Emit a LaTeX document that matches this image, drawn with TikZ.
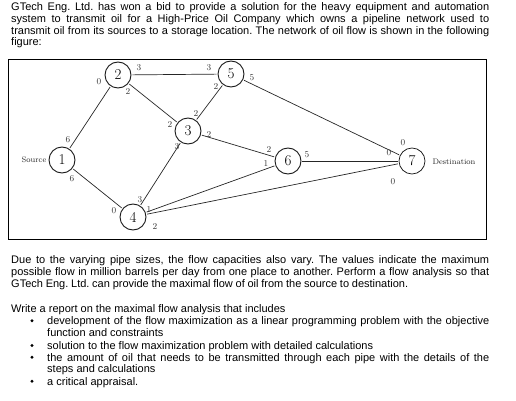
\documentclass[tikz,border=0pt]{standalone}
\usepackage{fontspec}
\newfontfamily\arial{Liberation Sans}
\frenchspacing
\begin{document}
\begin{tikzpicture}[x=1pt,y=-1pt,
 txt/.style={font=\arial\fontsize{11}{12.4}\selectfont, anchor=base west, inner sep=0pt},
 vtx/.style={circle, draw=black!90, line width=0.9pt, minimum size=26pt, inner sep=0pt, font=\fontsize{15}{15}\selectfont},
 lbl/.style={font=\fontsize{9}{9}\selectfont, inner sep=0pt, text=black!80},
 side/.style={font=\fontsize{8}{8}\selectfont, inner sep=0pt, text=black!85},
 pipe/.style={draw=black!85, line width=0.7pt, shorten <=1pt, shorten >=1pt},
 bul/.style={circle, fill=black, minimum size=3.2pt, inner sep=0pt}]
\useasboundingbox (0,0) rectangle (516,401);
% top paragraph
\node[txt] (t1) at (11,10.7) {\makebox[478pt][s]{GTech Eng. Ltd. has won a bid to provide a solution for the heavy equipment and automation}};
\node[txt] (t2) at (11,22.7) {\makebox[478pt][s]{system to transmit oil for a High-Price Oil Company which owns a pipeline network used to}};
\node[txt] (t3) at (11,34.3) {\makebox[478pt][s]{transmit oil from its sources to a storage location. The network of oil flow is shown in the following}};
\node[txt] (t4) at (11,46) {figure:};
% frame
\node[draw=black, line width=0.8pt, minimum width=478pt, minimum height=180pt, inner sep=0pt, anchor=north west] (frame) at (8,59) {};
% vertices
\node[vtx] (n1) at (62,160) {1};
\node[vtx] (n2) at (118,75) {2};
\node[vtx] (n5) at (231,74) {5};
\node[vtx] (n3) at (188,131) {3};
\node[vtx] (n4) at (133,217) {4};
\node[vtx] (n6) at (288,161) {6};
\node[vtx, line width=0.75pt] (n7) at (412,161) {7};
\node[side] (src) at (34,160) {Source};
\node[side] (dst) at (454,162) {Destination};
% pipes
\draw[pipe] (n1) -- (n2);
\draw[pipe] (n1) -- (n4);
\draw[pipe] (n2) -- (n5);
\draw[pipe] (n2) -- (n3);
\draw[pipe] (n5) -- (n3);
\draw[pipe] (n5) -- (n7);
\draw[pipe] (n3) -- (n6);
\draw[pipe] (n3) -- (n4);
\draw[pipe] (n4) -- (n6);
\draw[pipe] (n4) -- (n7);
\draw[pipe] (n6) -- (n7);
% capacities
\node[lbl] (c12a) at (68,140) {6};
\node[lbl] (c12b) at (99,82) {0};
\node[lbl] (c14a) at (72,179) {6};
\node[lbl] (c14b) at (114,211) {0};
\node[lbl] (c25a) at (139,68) {3};
\node[lbl] (c25b) at (209,68) {3};
\node[lbl] (c23a) at (128,92) {2};
\node[lbl] (c23b) at (170,125) {2};
\node[lbl] (c53a) at (216,87) {2};
\node[lbl] (c53b) at (196,114) {2};
\node[lbl] (c57a) at (252,78) {5};
\node[lbl] (c57b) at (403,143) {0};
\node[lbl] (c36a) at (209,135) {2};
\node[lbl] (c36b) at (269,150) {2};
\node[lbl] (c34a) at (177,147) {3};
\node[lbl] (c34b) at (140,200) {3};
\node[lbl] (c46a) at (149,210) {1};
\node[lbl] (c46b) at (266,164) {1};
\node[lbl] (c47a) at (155,227) {2};
\node[lbl] (c47b) at (393,182) {0};
\node[lbl] (c67a) at (307,155) {5};
\node[lbl] (c67b) at (389,153) {0};
% second paragraph
\node[txt] (p1) at (11,263.3) {\makebox[478pt][s]{Due to the varying pipe sizes, the flow capacities also vary. The values indicate the maximum}};
\node[txt] (p2) at (11,275.4) {\makebox[478pt][s]{possible flow in million barrels per day from one place to another. Perform a flow analysis so that}};
\node[txt] (p3) at (11,287.7) {\makebox[397pt][s]{GTech Eng. Ltd. can provide the maximal flow of oil from the source to destination.}};
% third paragraph
\node[txt] (w0) at (11,312) {Write a report on the maximal flow analysis that includes};
\node[bul] (b1) at (32,320.7) {};
\node[txt] (w1) at (47,324.3) {\makebox[442pt][s]{development of the flow maximization as a linear programming problem with the objective}};
\node[txt] (w1b) at (47,336) {function and constraints};
\node[bul] (b2) at (32,345.5) {};
\node[txt] (w2) at (47,349.2) {solution to the flow maximization problem with detailed calculations};
\node[bul] (b3) at (32,357.2) {};
\node[txt] (w3) at (47,361) {\makebox[442pt][s]{the amount of oil that needs to be transmitted through each pipe with the details of the}};
\node[txt] (w3b) at (47,372.7) {steps and calculations};
\node[bul] (b4) at (32,381.2) {};
\node[txt] (w4) at (47,385) {a critical appraisal.};
\end{tikzpicture}
\end{document}
